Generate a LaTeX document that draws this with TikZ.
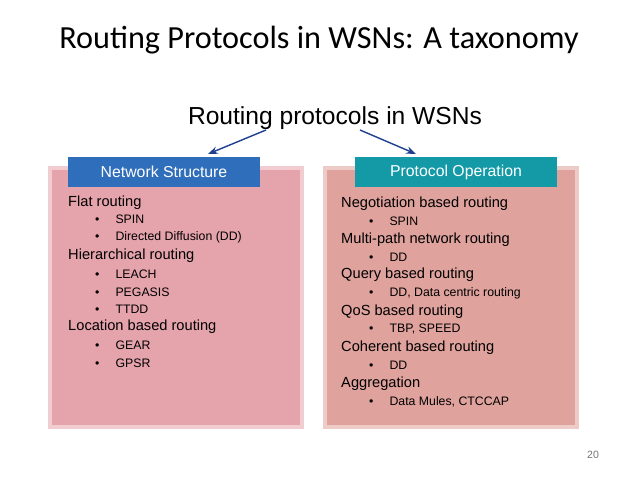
\documentclass[tikz,border=0pt]{standalone}
\usepackage{fontspec}
\setmainfont{Liberation Sans}
\newfontfamily\titlefont{Carlito}
\usetikzlibrary{arrows.meta}
\definecolor{pinkbox}{HTML}{E5A3AC}
\definecolor{salmonbox}{HTML}{DFA29C}
\definecolor{headblue}{HTML}{2F6EBA}
\definecolor{headteal}{HTML}{139AA6}
\definecolor{arrowblue}{HTML}{1F3F8F}

\begin{document}
\begin{tikzpicture}[x=0.03cm,y=-0.03cm]
        \useasboundingbox (0,0) rectangle (638,478);

        % panels
        \fill[pinkbox!55] (48,166) rectangle (304,429);
        \fill[pinkbox] (52,170) rectangle (300,425);
        \fill[salmonbox!55] (323,166) rectangle (579,429);
        \fill[salmonbox] (327,170) rectangle (575,425);

        \node (title) at (319,40) {\titlefont\fontsize{27.5}{30}\selectfont Routing Protocols in WSNs: A taxonomy};
        \node (root) at (335,118) {\fontsize{21}{24}\selectfont Routing protocols in WSNs};

        \begin{scope}[every node/.style={minimum height=0.9cm,text=white,font=\fontsize{13.5}{15}\selectfont,inner sep=0pt}]
            \node (ns) [fill=headblue,minimum width=5.76cm] at (164,172) {Network Structure};
            \node (po) [fill=headteal,minimum width=6.06cm] at (456,172) {Protocol Operation};
        \end{scope}

        \coordinate (rl) at (266,130);
        \coordinate (nsin) at (208,154);
        \coordinate (rr) at (360,130);
        \coordinate (poin) at (416,154);
        \begin{scope}[>={Stealth[arrowblue]}, every edge/.style={draw=arrowblue,very thick}]
            \path [->] (rl) edge (nsin);
            \path [->] (rr) edge (poin);
        \end{scope}

        % left column
        \begin{scope}[every node/.style={anchor=west,inner sep=0pt,font=\fontsize{12.5}{14}\selectfont}]
            \node (flat) at (68,203) {Flat routing};
            \node (hier) at (68,256) {Hierarchical routing};
            \node (loc) at (68,327) {Location based routing};
            \node (neg) at (341,204) {Negotiation based routing};
            \node (multi) at (341,240) {Multi-path network routing};
            \node (query) at (341,275) {Query based routing};
            \node (qos) at (341,312) {QoS based routing};
            \node (coh) at (341,348) {Coherent based routing};
            \node (agg) at (341,384) {Aggregation};
        \end{scope}

        \begin{scope}[every node/.style={anchor=west,inner sep=0pt,font=\fontsize{10.5}{12}\selectfont}]
            \foreach \y/\t in {219/SPIN, 237/Directed Diffusion (DD), 274/LEACH, 292/PEGASIS, 309/TTDD, 345/GEAR, 363/GPSR}
                \node at (95,\y) {•\hspace{1.3em}\t};
            \foreach \y/\t in {221/SPIN, 257/DD, 293/{DD, Data centric routing}, 329/{TBP, SPEED}, 365/DD, 402/{Data Mules, CTCCAP}}
                \node at (369,\y) {•\hspace{1.3em}\t};
        \end{scope}

        \node (page) [text=black!55,font=\fontsize{9}{10}\selectfont] at (593,455) {20};
\end{tikzpicture}
\end{document}
